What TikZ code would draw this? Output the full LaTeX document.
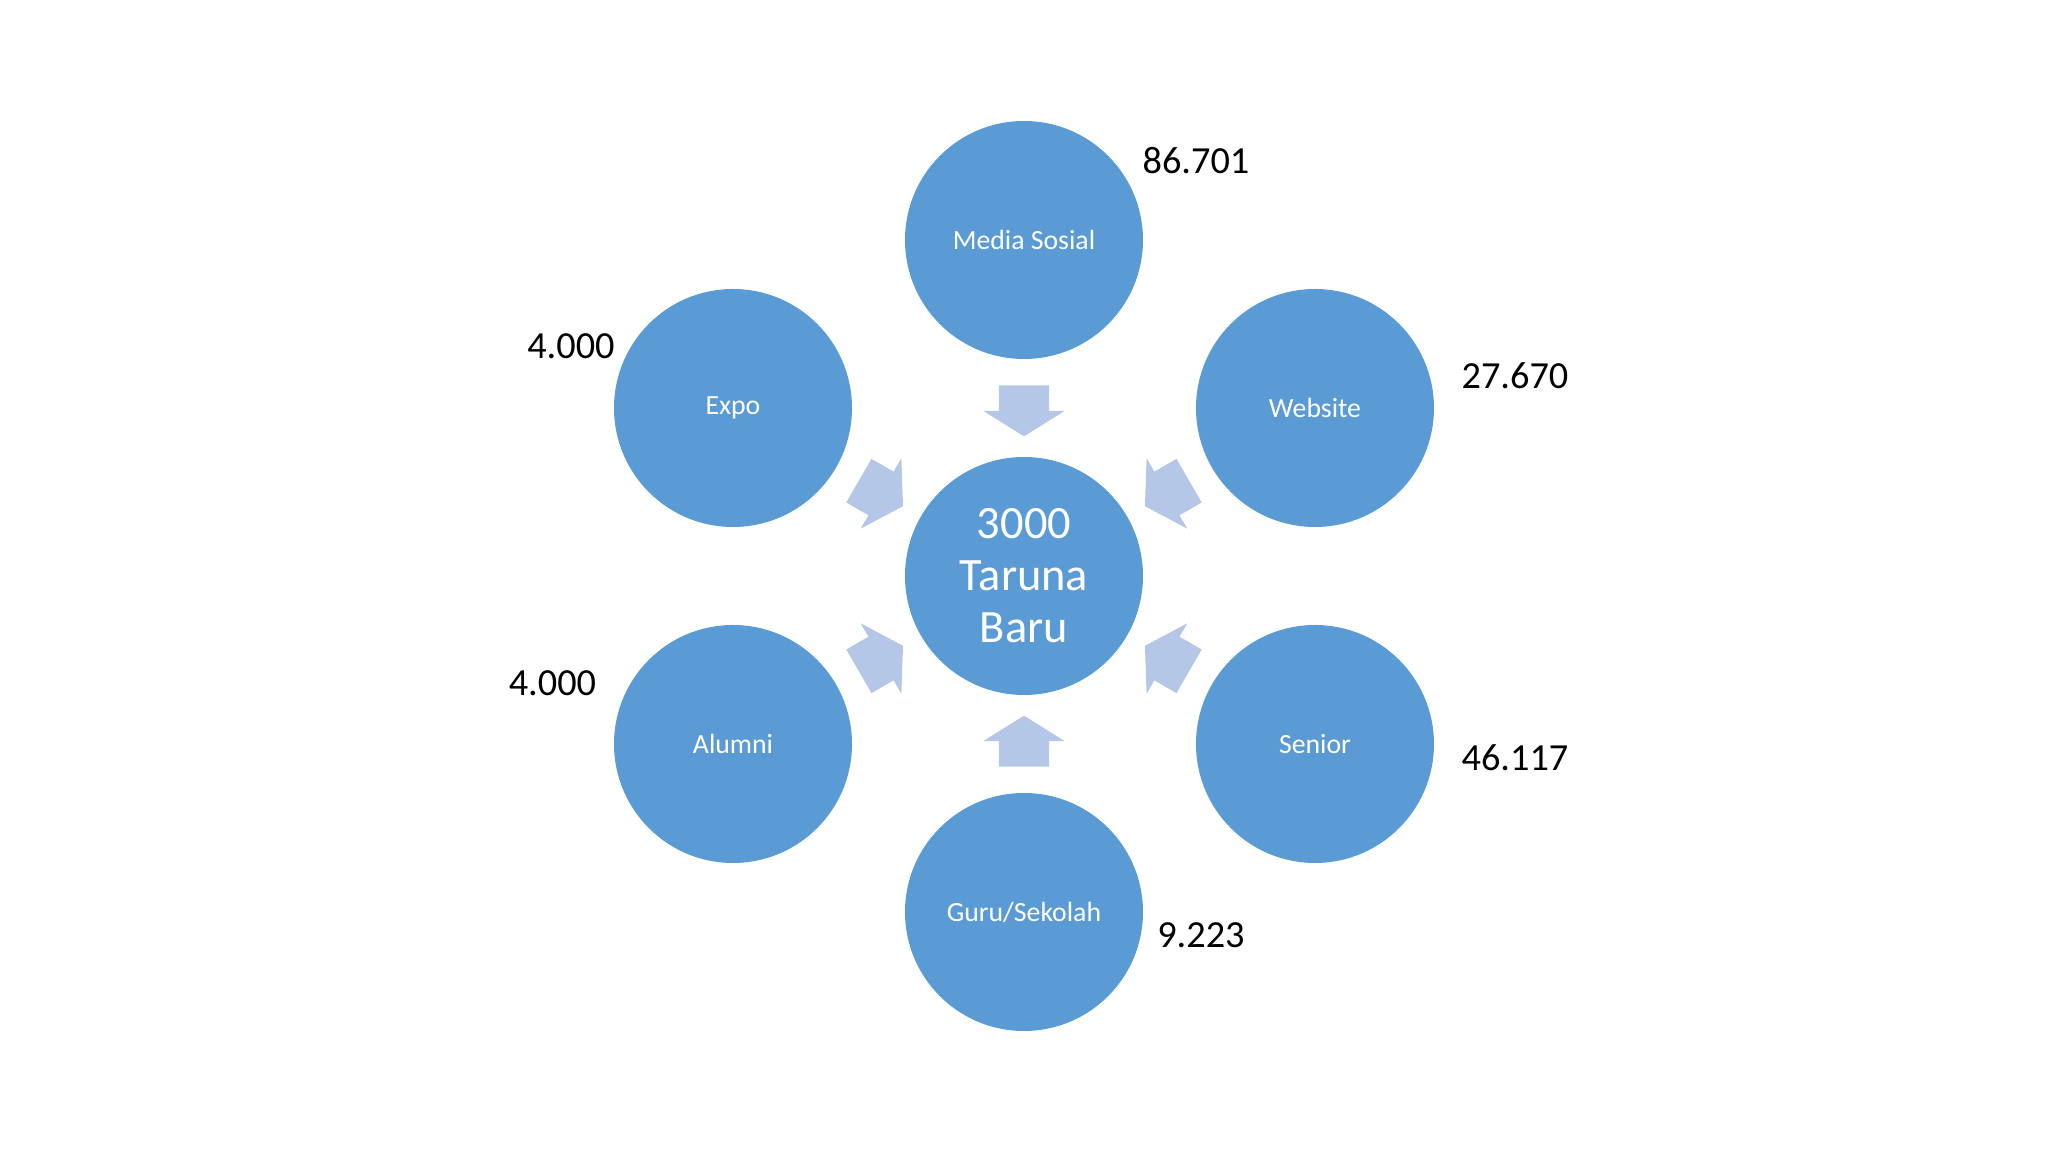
\documentclass[tikz,border=0pt]{standalone}
\usepackage{fontspec}
\setmainfont{Carlito}
\usetikzlibrary{shapes.arrows,calc}

\definecolor{circblue}{RGB}{91,155,213}
\definecolor{arrowblue}{RGB}{180,199,231}

\begin{document}
\begin{tikzpicture}
        \edef\sizecirc{2.38cm}
        \tikzstyle{src}=[circle,fill=circblue,minimum size=\sizecirc,inner sep=0pt,text=white,font=\fontsize{7.9}{9.5}\selectfont]
        \tikzstyle{goal}=[src,align=center,font=\fontsize{13.2}{14.8}\selectfont]
        \tikzstyle{blockarrow}=[single arrow,fill=arrowblue,inner xsep=0pt,inner ysep=0.245cm,minimum height=0.51cm,single arrow head extend=0.155cm,single arrow tip angle=116,single arrow head indent=0pt]
        \tikzstyle{num}=[font=\fontsize{10.9}{13}\selectfont]

        \useasboundingbox (-10.24,-5.76) rectangle (10.24,5.76);

        \node [goal] (c) at (0,0) {3000\\Taruna\\Baru};

        \node [src] (ms) at (90:3.36) {Media Sosial};
        \node [src] (web) at (30:3.36) {Website};
        \node [src] (sen) at (-30:3.36) {Senior};
        \node [src] (guru) at (-90:3.36) {Guru/Sekolah};
        \node [src] (alu) at (-150:3.36) {Alumni};
        \node [src] (expo) at (150:3.36) {Expo};

        %arrows into the middle
        \foreach \o/\a in {ms/90,web/30,sen/-30,guru/-90,alu/-150,expo/150} {
            \node [blockarrow,rotate=\a+180] (\o_arr) at ($(c)!0.515!(\o)$) {};
        };

        %numbers next to the circles
        \node [num] (ms_label) at (1.72,4.15) {86.701};
        \node [num] (web_label) at (4.91,2.00) {27.670};
        \node [num] (sen_label) at (4.91,-1.82) {46.117};
        \node [num] (guru_label) at (1.77,-3.595) {9.223};
        \node [num] (alu_label) at (-4.715,-1.07) {4.000};
        \node [num] (expo_label) at (-4.53,2.30) {4.000};
\end{tikzpicture}
\end{document}
